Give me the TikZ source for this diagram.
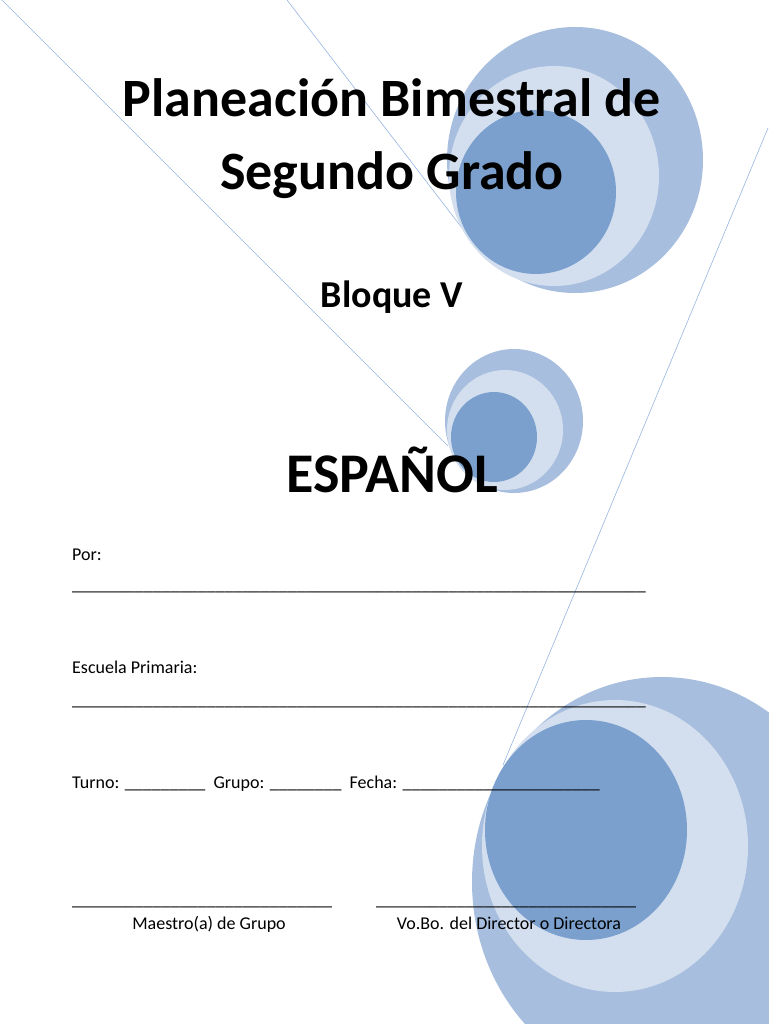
\documentclass[tikz,border=0pt]{standalone}
\usepackage{fontspec}
\setmainfont{Carlito}
\definecolor{outerc}{RGB}{167,190,222}
\definecolor{lightc}{RGB}{211,223,239}
\definecolor{darkc}{RGB}{123,160,205}
\definecolor{linec}{RGB}{150,180,225}
\newcommand\usc[1]{\foreach \i in {1,...,#1}{\_}}
\begin{document}
\begin{tikzpicture}[x=1pt,y=-1pt,
  deco/.style={draw=linec,line width=0.6pt},
  body/.style={anchor=base west,inner sep=0pt,font=\fontsize{18}{20}\selectfont},
  lbl/.style={anchor=base,inner sep=0pt,font=\fontsize{18}{20}\selectfont}]
\useasboundingbox (0,0) rectangle (768,1024);
\coordinate (l1a) at (2,0); \coordinate (l1b) at (448,446);
\coordinate (l2a) at (287,0); \coordinate (l2b) at (462,228);
\coordinate (l3a) at (768,128); \coordinate (l3b) at (503,765);
\draw[deco] (l1a) -- (l1b);
\draw[deco] (l2a) -- (l2b);
\draw[deco] (l3a) -- (l3b);
% top circles
\fill[outerc] (575,160) ellipse (128 and 133);
\fill[lightc] (554,176) ellipse (105 and 110);
\fill[darkc] (536,192) ellipse (80 and 82);
% middle
\fill[outerc] (514,421) ellipse (69 and 72);
\fill[lightc] (505,430) ellipse (58 and 60);
\fill[darkc] (494,437) ellipse (43 and 45);
% bottom
\fill[outerc] (662,882) ellipse (190 and 205);
\fill[lightc] (615,846) ellipse (133 and 146);
\fill[darkc] (586,830) ellipse (101 and 110);
% texts
\node (t1) [anchor=base,inner sep=0pt,font=\bfseries\fontsize{54}{60}\selectfont] at (392,117) {Planeación Bimestral de};
\node (t2) [anchor=base,inner sep=0pt,font=\bfseries\fontsize{54}{60}\selectfont] at (392,190) {Segundo Grado};
\node (t3) [anchor=base,inner sep=0pt,font=\bfseries\fontsize{38}{40}\selectfont] at (392,307) {Bloque V};
\node (t4) [anchor=base,inner sep=0pt,font=\bfseries\fontsize{56}{60}\selectfont] at (392,492) {ESPAÑOL};
\node (por) [body] at (72,560) {Por:};
\node (porl) [body] at (72,590) {\usc{64}};
\node (esc) [body] at (72,673) {Escuela Primaria:};
\node (escl) [body] at (72,705) {\usc{64}};
\node (turno) [body] at (72,788) {Turno: \usc{9}\ \ Grupo: \usc{8}\ \ Fecha: \usc{22}};
\node (s1) [body] at (72,905) {\usc{29}};
\node (s2) [body] at (376,905) {\usc{29}};
\node (m1) [lbl] at (209,929) {Maestro(a) de Grupo};
\node (m2) [lbl] at (509,929) {Vo.Bo. del Director o Directora};
\end{tikzpicture}
\end{document}
